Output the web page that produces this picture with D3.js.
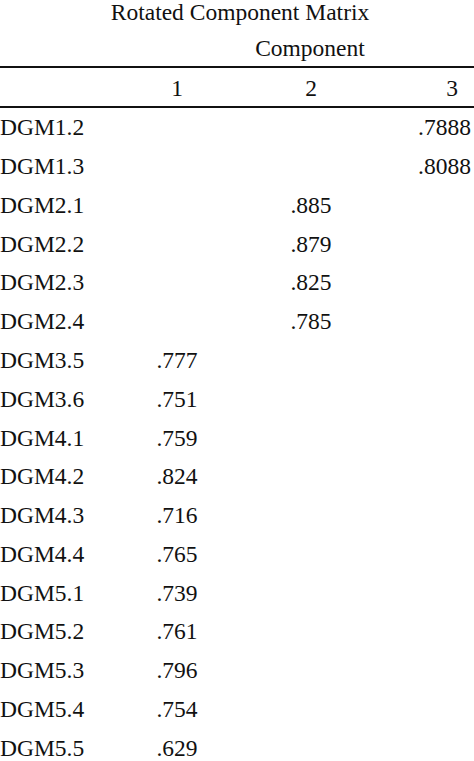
<!DOCTYPE html><html><head><meta charset="utf-8"><script src="https://cdn.jsdelivr.net/npm/d3@7"></script>
<style>body{margin:0;background:#fff}</style></head><body><svg id="c" width="474" height="761"></svg>
<script>
const rows=["DGM1.2","DGM1.3","DGM2.1","DGM2.2","DGM2.3","DGM2.4","DGM3.5","DGM3.6","DGM4.1","DGM4.2","DGM4.3","DGM4.4","DGM5.1","DGM5.2","DGM5.3","DGM5.4","DGM5.5"];
const components=["1","2","3"];
const loadings=[[null,null,".7888"],[null,null,".8088"],[null,".885",null],[null,".879",null],[null,".825",null],[null,".785",null],[".777",null,null],[".751",null,null],[".759",null,null],[".824",null,null],[".716",null,null],[".765",null,null],[".739",null,null],[".761",null,null],[".796",null,null],[".754",null,null],[".629",null,null]];
const svg=d3.select("#c");
const font="'Liberation Serif','Times New Roman',serif";
const xCenters={"1":177,"2":311,"3":452};
const y=d3.scaleBand().domain(rows).range([108,767]);
const t=(s,xx,yy,a)=>svg.append("text").attr("x",xx).attr("y",yy).attr("text-anchor",a||"middle").attr("font-family",font).attr("font-size",23.5).attr("fill","#111").text(s);
t("Rotated Component Matrix",240,20);
t("Component",310,56);
svg.append("rect").attr("x",0).attr("y",66).attr("width",474).attr("height",2).attr("fill","#111");
svg.append("rect").attr("x",0).attr("y",106).attr("width",474).attr("height",2).attr("fill","#111");
components.forEach(c=>t(c,xCenters[c],96));
rows.forEach((r,i)=>{
  const yy=y(r)+y.bandwidth()/2+8;
  t(r,0,yy,"start");
  loadings[i].forEach((v,j)=>{ if(v){ if(j==2) t(v,418,yy,"start"); else t(v,xCenters[components[j]],yy);} });
});
</script></body></html>
